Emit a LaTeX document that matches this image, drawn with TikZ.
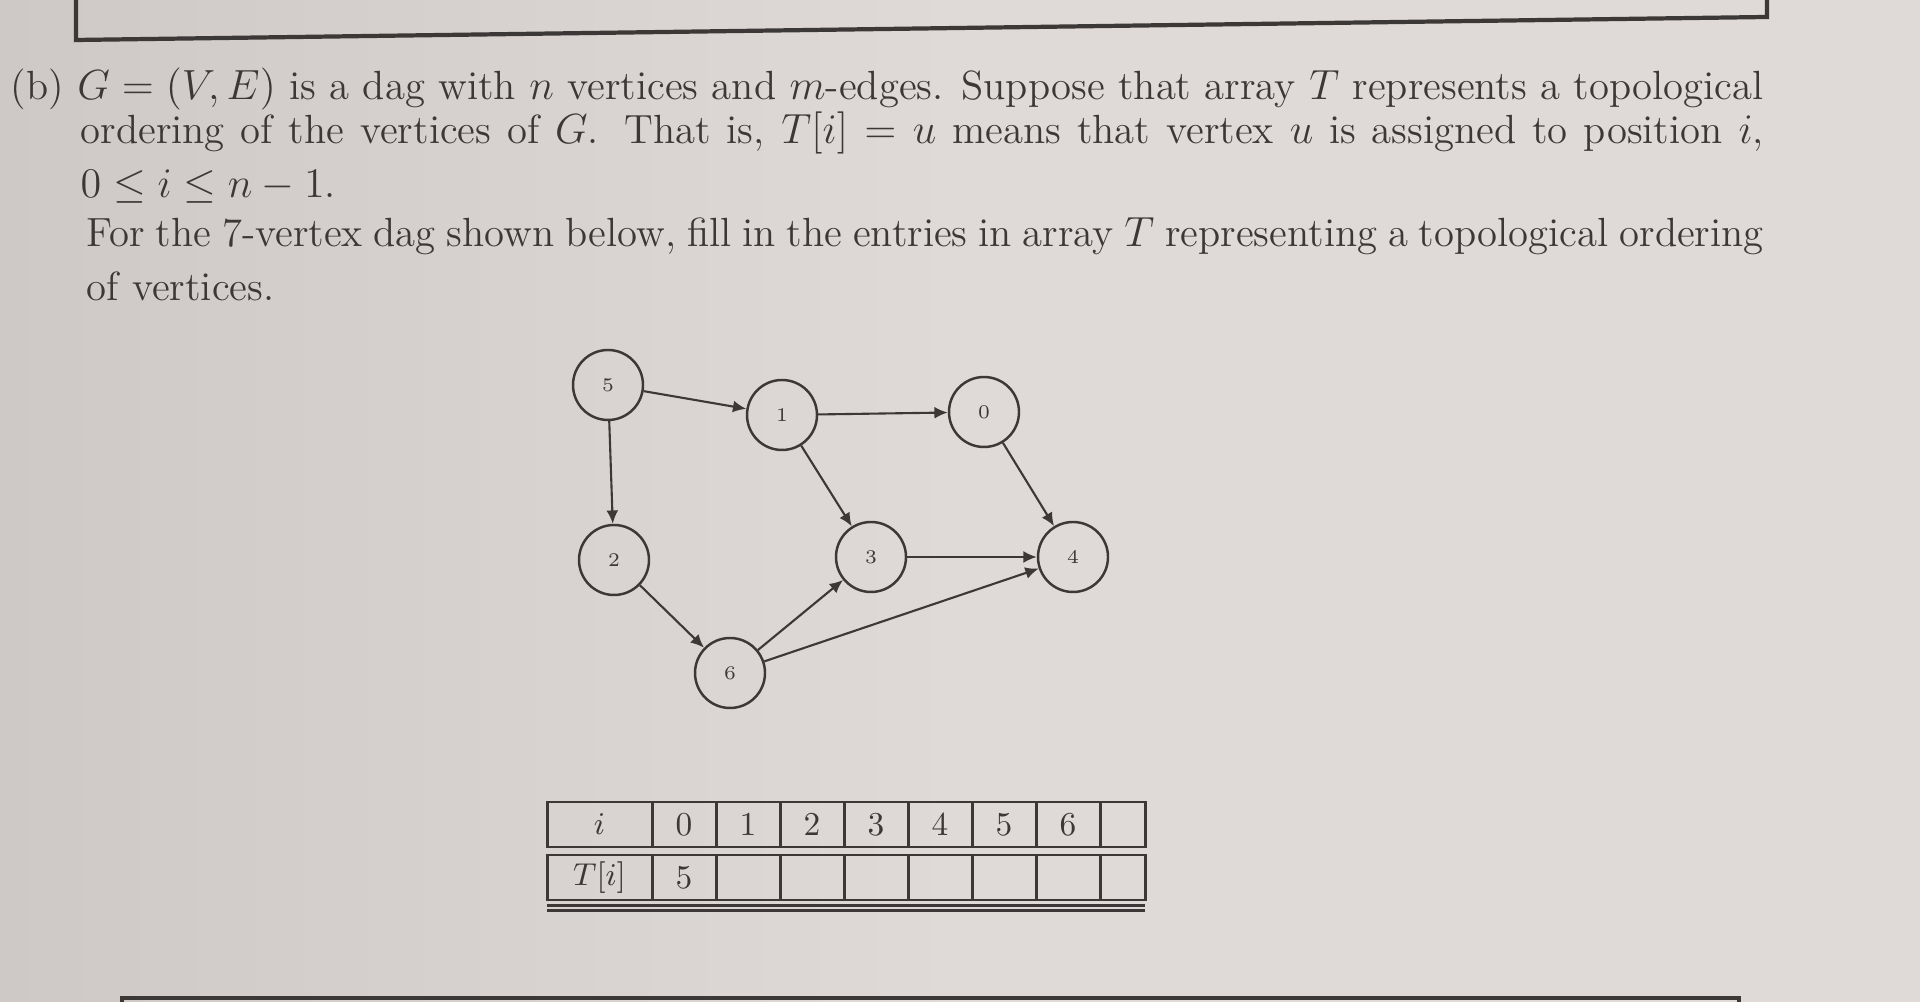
\documentclass[tikz,border=0pt]{standalone}
\usepackage{amsmath}
\usepackage{amssymb}
\usepackage{tikz}
\usetikzlibrary{arrows.meta}

\definecolor{paper}{RGB}{223,217,215}
\definecolor{paperdark}{RGB}{206,200,198}
\definecolor{ink}{RGB}{60,56,56}

\tikzset{
  vertex/.style={draw=ink, circle, line width=0.7pt, minimum size=0.70cm, inner sep=0pt, font=\fontsize{5.5}{6}\selectfont},
  edge/.style={draw=ink, line width=0.6pt, -{Latex[length=3.8pt, width=3.4pt]}},
  cell/.style={draw=ink, line width=0.85pt, minimum height=0.45cm, inner sep=0pt, font=\fontsize{9.5}{11}\selectfont},
  textline/.style={anchor=base west, inner sep=0pt, font=\fontsize{11.6}{13}\selectfont}
}

\begin{document}
\begin{tikzpicture}[color=ink]
  \useasboundingbox (0,0) rectangle (19.2,10.02);
  % paper
  \shade[left color=paperdark, right color=paper, middle color=paper] (0,0) rectangle (19.2,10.02);

  % box above
  \draw[line width=1.2pt] (0.76,10.02)--(0.76,9.62)--(17.67,9.85)--(17.67,10.02);
  % box below
  \draw[line width=1.2pt] (1.22,0)--(1.22,0.04)--(17.39,0.04)--(17.39,0);

  % question text
  \node[textline] (line1) at (0.10, 9.02){\parbox[t]{17.53cm}{\parfillskip=0pt
    (b) $G=(V,E)$ is a dag with $n$ vertices and $m$-edges. Suppose that array $T$ represents a topological}};
  \node[textline] (line2) at (0.80, 8.58){\parbox[t]{16.83cm}{\parfillskip=0pt
    ordering of the vertices of $G$. That is, $T[i]=u$ means that vertex $u$ is assigned to position $i$,}};
  \node[textline] (line3) at (0.80, 8.04){$0\leq i\leq n-1$.};
  \node[textline] (line4) at (0.86, 7.55){\parbox[t]{16.77cm}{\parfillskip=0pt
    For the 7-vertex dag shown below, fill in the entries in array $T$ representing a topological ordering}};
  \node[textline] (line5) at (0.86, 7.01){of vertices.};

  % dag vertices
  \node[vertex] (v5) at (6.08, 6.17){5};
  \node[vertex] (v1) at (7.82, 5.87){1};
  \node[vertex] (v0) at (9.84, 5.90){0};
  \node[vertex] (v2) at (6.14, 4.42){2};
  \node[vertex] (v3) at (8.71, 4.45){3};
  \node[vertex] (v4) at (10.73, 4.45){4};
  \node[vertex] (v6) at (7.30, 3.29){6};

  % dag edges
  \draw[edge] (v5)--(v1);
  \draw[edge] (v5)--(v2);
  \draw[edge] (v1)--(v0);
  \draw[edge] (v1)--(v3);
  \draw[edge] (v0)--(v4);
  \draw[edge] (v3)--(v4);
  \draw[edge] (v2)--(v6);
  \draw[edge] (v6)--(v3);
  \draw[edge] (v6)--(v4);

  % array index row
  \node[cell, minimum width=1.05cm] (ihead) at (5.995, 1.775){$i$};
  \foreach \k in {0,...,6}
    \node[cell, minimum width=0.64cm] (i\k) at (6.84 + 0.64*\k, 1.775){\k};
  \node[cell, minimum width=0.45cm] (iend) at (11.225, 1.775){};

  % array entry row
  \node[cell, minimum width=1.05cm] (thead) at (5.995, 1.245){$T[i]$};
  \node[cell, minimum width=0.64cm] (t0) at (6.84, 1.245){5};
  \foreach \k in {1,...,6}
    \node[cell, minimum width=0.64cm] (t\k) at (6.84 + 0.64*\k, 1.245){};
  \node[cell, minimum width=0.45cm] (tend) at (11.225, 1.245){};

  % double rule under the array
  \draw[line width=0.85pt] (5.47,0.965)--(11.45,0.965);
  \draw[line width=0.85pt] (5.47,0.915)--(11.45,0.915);
\end{tikzpicture}
\end{document}
